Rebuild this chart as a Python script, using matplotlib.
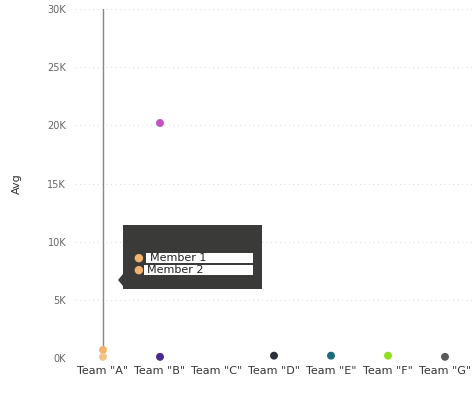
import matplotlib.pyplot as plt
from matplotlib.patches import Rectangle, Polygon

teams = ['Team "A"', 'Team "B"', 'Team "C"', 'Team "D"', 'Team "E"', 'Team "F"', 'Team "G"']
pt_team = [0, 0, 1, 1, 3, 4, 5, 6]
pt_avg = [700, 100, 20200, 100, 200, 200, 200, 100]
pt_color = ['#f2b36b', '#f2c48a', '#c154c1', '#4b2a8c', '#2b2f3a', '#1d6b7a', '#8fe01c', '#5a5a5a']
yticks = [0, 5000, 10000, 15000, 20000, 25000, 30000]
ylabels = ['0K', '5K', '10K', '15K', '20K', '25K', '30K']

fig = plt.figure(figsize=(4.74, 4.05), dpi=100)
ax = fig.add_axes([74.5 / 474, 1 - 358 / 405, 399 / 474, 349 / 405])
ax.set_xlim(-0.5, 6.5)
ax.set_ylim(0, 30000)
ax.set_yticks(yticks)
ax.set_yticklabels(ylabels, fontsize=7, color='#666666')
ax.set_xticks(range(len(teams)))
ax.set_xticklabels(teams, fontsize=8, color='#333333')
ax.tick_params(length=0, pad=6)
for s in ax.spines.values():
    s.set_visible(False)
ax.grid(axis='y', color='#dddddd', linestyle=(0, (1, 3)), linewidth=0.8)
ax.set_axisbelow(True)
ax.set_ylabel('Avg', fontsize=8, color='#333333', labelpad=18)
ax.clip_on = False

ax.axvline(0, color='#888888', linewidth=1, zorder=1)
ax.scatter(pt_team, pt_avg, c=pt_color, s=22, zorder=3, clip_on=False)

# tooltip
tx0, tx1, ty0, ty1 = 123 / 474, 262 / 474, 1 - 289 / 405, 1 - 225 / 405
fig.patches.append(Rectangle((tx0, ty0), tx1 - tx0, ty1 - ty0, transform=fig.transFigure,
                             facecolor='#3a3a38', edgecolor='none', zorder=5))
fig.patches.append(Polygon([(tx0, 1 - 274 / 405), (tx0 - 5 / 474, 1 - 280 / 405), (tx0, 1 - 286 / 405)],
                           transform=fig.transFigure, facecolor='#3a3a38', edgecolor='none', zorder=5))
for i, name in enumerate(['Member 1', 'Member 2']):
    yc = 1 - (258 + 12 * i) / 405
    fig.patches.append(Rectangle((146 / 474 - (2 / 474 if i else 0), yc - 5 / 405), (253 - 146) / 474 + (2 / 474 if i else 0), 10 / 405,
                                 transform=fig.transFigure, facecolor='white', edgecolor='none', zorder=6))
    fig.text(138 / 474, yc, '\u25cf', color='#f2b36b', fontsize=8, ha='center', va='center', zorder=7)
    fig.text((150 if i == 0 else 147) / 474, yc, name, fontsize=8, color='#222222', va='center', zorder=7)

fig.savefig('out.png', dpi=100)
